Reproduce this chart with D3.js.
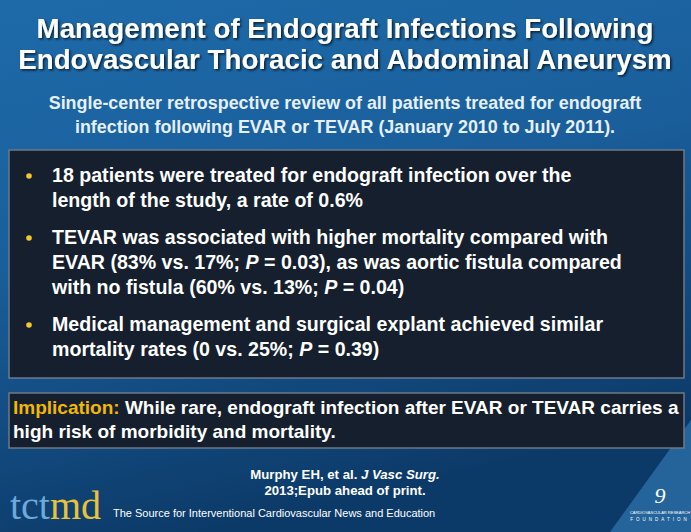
<!DOCTYPE html>
<html><head><meta charset="utf-8">
<script src="https://cdn.jsdelivr.net/npm/d3@7"></script>
<style>body{margin:0;background:#0f4577}svg{display:block}</style>
</head><body><svg width="691" height="532"></svg>
<script>
// slide text, kept as small arrays; _x_ marks italic
var titleLines = ["Management of Endograft Infections Following",
                  "Endovascular Thoracic and Abdominal Aneurysm"];
var subtitleLines = ["Single-center retrospective review of all patients treated for endograft",
                     "infection following EVAR or TEVAR (January 2010 to July 2011)."];
var bullets = [
  ["18 patients were treated for endograft infection over the",
   "length of the study, a rate of 0.6%"],
  ["TEVAR was associated with higher mortality compared with",
   "EVAR (83% vs. 17%; _P_ = 0.03), as was aortic fistula compared",
   "with no fistula (60% vs. 13%; _P_ = 0.04)"],
  ["Medical management and surgical explant achieved similar",
   "mortality rates (0 vs. 25%; _P_ = 0.39)"]
];
var implicationLines = ["While rare, endograft infection after EVAR or TEVAR carries a",
                        "high risk of morbidity and mortality."];
var citeLines = ["Murphy EH, et al. _J Vasc Surg._", "2013;Epub ahead of print."];
var tagline = "The Source for Interventional Cardiovascular News and Education";

var svg = d3.select("svg");
var font = "'Liberation Sans', Arial, sans-serif";
var defs = svg.append("defs");
var g = defs.append("linearGradient").attr("id","bg").attr("x1",0).attr("y1",0).attr("x2",0.3).attr("y2",1);
g.append("stop").attr("offset","0").attr("stop-color","#1e6aa9");
g.append("stop").attr("offset","0.45").attr("stop-color","#1a5f9c");
g.append("stop").attr("offset","1").attr("stop-color","#0c3a68");
var f = defs.append("filter").attr("id","sh");
f.append("feDropShadow").attr("dx",1.5).attr("dy",1.5).attr("stdDeviation",1).attr("flood-color","#000").attr("flood-opacity",0.7);

svg.append("rect").attr("width",691).attr("height",532).attr("fill","url(#bg)");
svg.append("path").attr("d","M610,532 L691,420 L691,532 Z").attr("fill","#2c6fa8").attr("opacity",0.8);

function rich(sel, str) {
  str.split("_").forEach(function(s,i){
    if (!s) return;
    sel.append("tspan").attr("font-style", i%2 ? "italic" : null).text(s);
  });
}

svg.selectAll(".title").data(titleLines).enter().append("text")
  .attr("x",345).attr("y",function(d,i){return 38+i*31;})
  .attr("text-anchor","middle").attr("font-family",font).attr("font-weight","bold")
  .attr("font-size",27.7).attr("fill","#fff").attr("filter","url(#sh)").text(function(d){return d;});

svg.selectAll(".sub").data(subtitleLines).enter().append("text")
  .attr("x",345).attr("y",function(d,i){return 109+i*24;})
  .attr("text-anchor","middle").attr("font-family",font).attr("font-weight","bold")
  .attr("font-size",17.9).attr("fill","#e6f0fa").text(function(d){return d;});

// boxes
svg.append("rect").attr("x",9).attr("y",150).attr("width",675).attr("height",228)
  .attr("fill","#161f2d").attr("stroke","#6d7a88").attr("stroke-width",1.5);
svg.append("rect").attr("x",9).attr("y",393).attr("width",675).attr("height",55)
  .attr("fill","#161f2d").attr("stroke","#6d7a88").attr("stroke-width",1.5);

var y = 182;
bullets.forEach(function(b){
  svg.append("circle").attr("cx",29).attr("cy",y-6).attr("r",2.8).attr("fill","#f2c82e");
  b.forEach(function(line){
    var t = svg.append("text").attr("x",52).attr("y",y).attr("font-family",font)
      .attr("font-weight","bold").attr("font-size",19.6).attr("fill","#fff");
    rich(t, line);
    y += 25;
  });
  y += 12;
});

implicationLines.forEach(function(line,i){
  var t = svg.append("text").attr("x",13).attr("y",414+i*24).attr("font-family",font)
    .attr("font-weight","bold").attr("font-size",19).attr("fill","#fff");
  if (i===0) t.append("tspan").attr("fill","#f0b800").text("Implication: ");
  rich(t, line);
});

citeLines.forEach(function(line,i){
  var t = svg.append("text").attr("x",345).attr("y",479+i*16).attr("text-anchor","middle")
    .attr("font-family",font).attr("font-weight","bold").attr("font-size",13.2).attr("fill","#fff");
  rich(t, line);
});

// footer logo
var logo = svg.append("text").attr("x",10).attr("y",519).attr("font-family","'Liberation Serif', serif")
  .attr("font-size",40);
logo.append("tspan").attr("fill","#6fa8dc").text("tct");
logo.append("tspan").attr("fill","#e8c23a").text("md");
svg.append("text").attr("x",113).attr("y",517).attr("font-family",font).attr("font-size",11)
  .attr("fill","#fff").text(tagline);
svg.append("text").attr("x",660).attr("y",503).attr("text-anchor","middle").attr("font-family","'Liberation Serif', serif")
  .attr("font-style","italic").attr("font-size",22).attr("fill","#fff").text("9");
svg.append("text").attr("x",660).attr("y",514).attr("text-anchor","middle").attr("font-family",font)
  .attr("font-size",4).attr("fill","#fff").text("CARDIOVASCULAR RESEARCH");
svg.append("text").attr("x",660).attr("y",521).attr("text-anchor","middle").attr("font-family",font)
  .attr("font-size",4.5).attr("letter-spacing",3).attr("fill","#fff").text("FOUNDATION");
</script></body></html>
